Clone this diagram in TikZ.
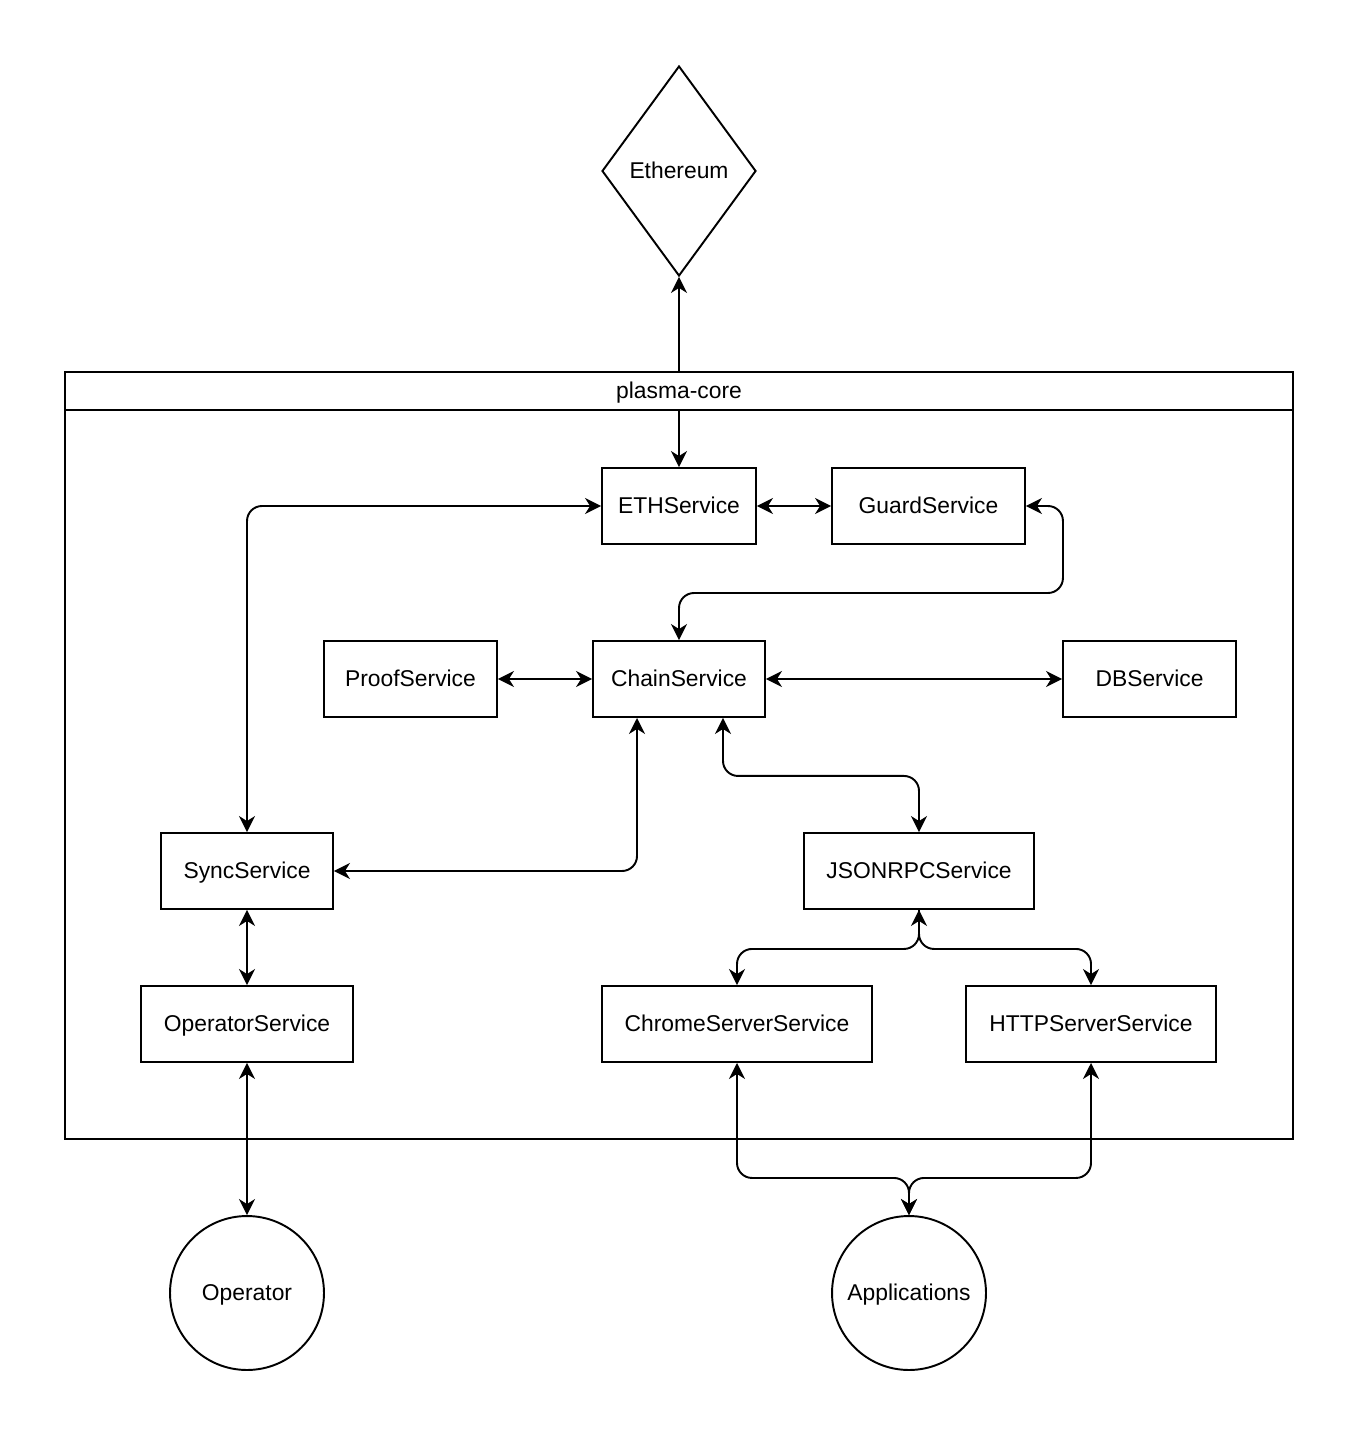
\documentclass[tikz,border=0pt]{standalone}
\usepackage{fontspec}
\setmainfont{Liberation Sans}
\usetikzlibrary{arrows.meta,shapes.geometric}

\begin{document}
\begin{tikzpicture}[
  x=0.02cm, y=-0.02cm,
  font=\fontsize{13}{15}\selectfont,
  every node/.style={text height=0.96em, text depth=0.08em},
  svc/.style={draw, line width=1.1pt, minimum height=1.52cm, inner sep=0pt},
  actor/.style={draw, circle, line width=1.1pt, minimum size=3.08cm, inner sep=0pt},
  arrow/.style={-{Stealth[length=0.32cm, width=0.32cm, inset=0.1cm]}, line width=1.1pt, rounded corners=0.3cm},
  both/.style={arrow, {Stealth[length=0.32cm, width=0.32cm, inset=0.1cm]}-{Stealth[length=0.32cm, width=0.32cm, inset=0.1cm]}}
]
\useasboundingbox (0,0) rectangle (1358,1435);

% chain
\node[draw, diamond, line width=1.1pt, aspect=0.733, minimum width=3.08cm, minimum height=4.2cm, inner sep=0pt] (eth) at (679,171) {Ethereum};

% plasma-core container
\node[draw, line width=1.1pt, minimum width=24.56cm, minimum height=15.34cm, inner sep=0pt] (core) at (679,755.5) {};
\coordinate (hdr) at (679,410);
\draw[line width=1.1pt] (core.west |- hdr) -- (core.east |- hdr);
\node (title) at (679,391) {plasma-core};

% services
\node[svc, minimum width=3.08cm] (ethsvc) at (679,506) {ETHService};
\node[svc, minimum width=3.86cm] (guard) at (928.5,506) {GuardService};
\node[svc, minimum width=3.46cm] (proof) at (410.5,679) {ProofService};
\node[svc, minimum width=3.44cm] (chain) at (679,679) {ChainService};
\node[svc, minimum width=3.46cm] (db) at (1149.5,679) {DBService};
\node[svc, minimum width=3.44cm] (sync) at (247,871) {SyncService};
\node[svc, minimum width=4.6cm] (json) at (919,871) {JSONRPCService};
\node[svc, minimum width=4.24cm] (opsvc) at (247,1024) {OperatorService};
\node[svc, minimum width=5.4cm] (chrome) at (737,1024) {ChromeServerService};
\node[svc, minimum width=5.0cm] (http) at (1091,1024) {HTTPServerService};

% outside actors
\node[actor] (operator) at (247,1293) {Operator};
\node[actor] (apps) at (909,1293) {Applications};

\draw[arrow] (core.north -| eth) -- (eth.south);
\draw[arrow] (hdr) -- (ethsvc.north);
\draw[both] (ethsvc) -- (guard);
\draw[both] (sync.north) |- (ethsvc.west);
\draw[both] (guard.east) -- ++(37,0) -- ++(0,87) -| (chain.north);
\draw[both] (proof) -- (chain);
\draw[both] (chain) -- (db);
\draw[both] ([xshift=-0.84cm]chain.south) |- (sync.east);
\draw[both] ([xshift=0.88cm]chain.south) -- ++(0,58) -| (json.north);
\draw[both] (json.south) -- ++(0,39) -| (chrome.north);
\draw[arrow] (json.south) -- ++(0,39) -| (http.north);
\draw[both] (sync) -- (opsvc);
\draw[both] (opsvc) -- (operator);
\draw[both] (chrome.south) -- ++(0,115) -| (apps.north);
\draw[both] (http.south) -- ++(0,115) -| (apps.north);
\end{tikzpicture}
\end{document}
